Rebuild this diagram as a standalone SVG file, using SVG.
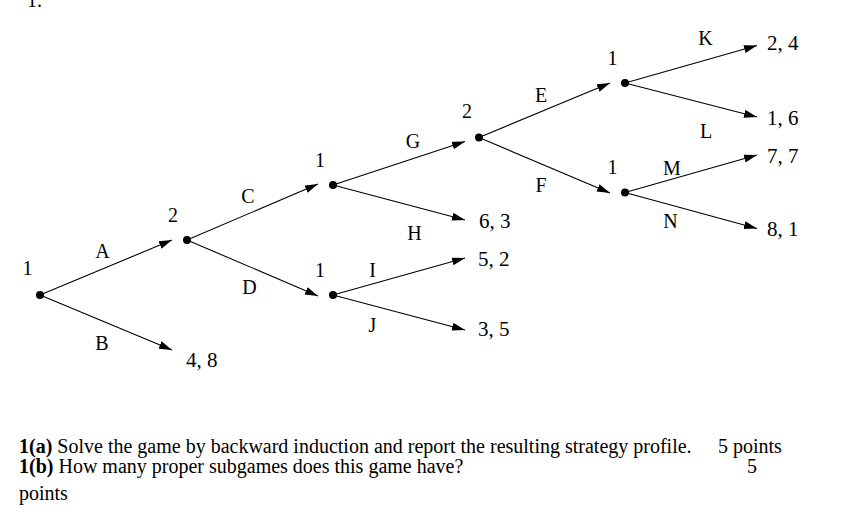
<svg xmlns="http://www.w3.org/2000/svg" width="855" height="517" viewBox="0 0 855 517">
<style>
text { font-family: "Liberation Serif", "Times New Roman", serif; font-size: 20px; fill: #000; }
.c { text-anchor: middle; }
.pay { font-size: 21px; }
.edge { stroke: #000; stroke-width: 1.1; fill: none; marker-end: url(#arr); }
.dot { fill: #000; }
</style>
<defs>
<marker id="arr" markerUnits="userSpaceOnUse" markerWidth="14" markerHeight="10" refX="13" refY="4" orient="auto">
<path d="M0,0 L13,4 L0,8 z" fill="#000"/>
</marker>
</defs>
<rect width="855" height="517" fill="#fff"/>
<text x="27" y="7">1.</text>
<g id="connectors">
<line class="edge" x1="40" y1="295" x2="172" y2="240"/>
<line class="edge" x1="40" y1="295" x2="172" y2="350"/>
<line class="edge" x1="187" y1="240" x2="318" y2="184"/>
<line class="edge" x1="187" y1="240" x2="318" y2="296"/>
<line class="edge" x1="333" y1="185" x2="465" y2="141.5"/>
<line class="edge" x1="333" y1="185" x2="465" y2="220"/>
<line class="edge" x1="333" y1="295" x2="465" y2="258"/>
<line class="edge" x1="333" y1="295" x2="465" y2="330"/>
<line class="edge" x1="479" y1="137.5" x2="610" y2="83"/>
<line class="edge" x1="479" y1="137.5" x2="610" y2="193"/>
<line class="edge" x1="625" y1="83" x2="757" y2="45.5"/>
<line class="edge" x1="625" y1="83" x2="757" y2="117"/>
<line class="edge" x1="625" y1="192.5" x2="757" y2="155"/>
<line class="edge" x1="625" y1="192.5" x2="757" y2="228.5"/>
<text class="c" x="102.5" y="258">A</text>
<text class="c" x="102" y="350">B</text>
<text class="c" x="248" y="203">C</text>
<text class="c" x="249.5" y="294">D</text>
<text class="c" x="413" y="148">G</text>
<text class="c" x="414.5" y="240">H</text>
<text class="c" x="372.5" y="277">I</text>
<text class="c" x="372.5" y="332">J</text>
<text class="c" x="541" y="102">E</text>
<text class="c" x="541" y="192">F</text>
<text class="c" x="705.5" y="45">K</text>
<text class="c" x="706" y="138">L</text>
<text class="c" x="672" y="175">M</text>
<text class="c" x="670.5" y="228">N</text>
</g>
<g id="n-root"><circle class="dot" cx="40" cy="295" r="4"/><text class="c" x="27.5" y="275">1</text></g>
<g id="n-2a"><circle class="dot" cx="187" cy="240" r="4"/><text class="c" x="173" y="222">2</text></g>
<g id="n-1b"><circle class="dot" cx="333" cy="185" r="4"/><text class="c" x="320" y="167">1</text></g>
<g id="n-1c"><circle class="dot" cx="333" cy="295" r="4"/><text class="c" x="320" y="277">1</text></g>
<g id="n-2d"><circle class="dot" cx="479" cy="137.5" r="4"/><text class="c" x="467" y="118">2</text></g>
<g id="n-1e"><circle class="dot" cx="625" cy="83" r="4"/><text class="c" x="612.5" y="65">1</text></g>
<g id="n-1f"><circle class="dot" cx="625" cy="192.5" r="4"/><text class="c" x="612.5" y="174">1</text></g>
<g id="t-48"><text class="pay" x="186" y="367">4, 8</text></g>
<g id="t-63"><text class="pay" x="479" y="227.5">6, 3</text></g>
<g id="t-52"><text class="pay" x="478" y="266">5, 2</text></g>
<g id="t-35"><text class="pay" x="478" y="336">3, 5</text></g>
<g id="t-24"><text class="pay" x="767" y="50">2, 4</text></g>
<g id="t-16"><text class="pay" x="767" y="125">1, 6</text></g>
<g id="t-77"><text class="pay" x="767" y="163">7, 7</text></g>
<g id="t-81"><text class="pay" x="767" y="236">8, 1</text></g>
<g id="questions">
<text x="19" y="453"><tspan font-weight="bold">1(a)</tspan> Solve the game by backward induction and report the resulting strategy profile.</text>
<text x="718" y="453">5 points</text>
<text x="19" y="473"><tspan font-weight="bold">1(b)</tspan> How many proper subgames does this game have?</text>
<text x="747" y="473">5</text>
<text x="19" y="500">points</text>
</g>
</svg>
